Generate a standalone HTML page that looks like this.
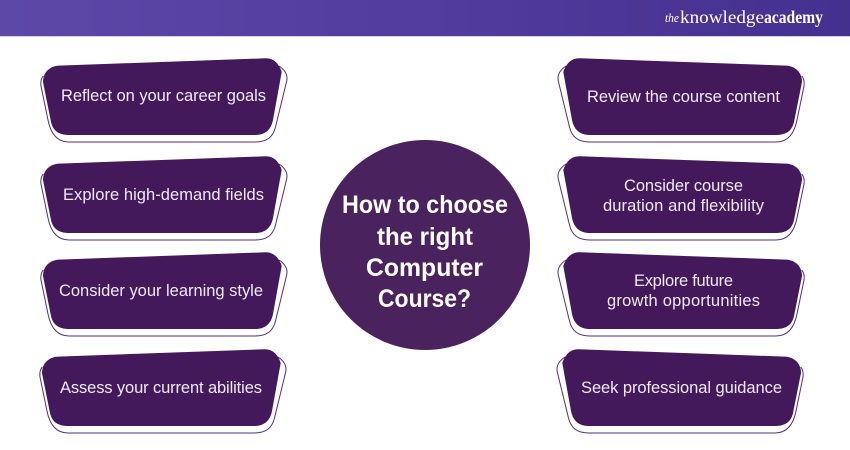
<!DOCTYPE html>
<html>
<head>
<meta charset="utf-8">
<style>
html,body{margin:0;padding:0;background:#fff;width:850px;height:450px;overflow:hidden}
svg{display:block}
.t{font-family:"Liberation Sans",sans-serif;font-size:16.5px;fill:#f1e8f4}
.h{font-family:"Liberation Sans",sans-serif;font-size:25px;font-weight:bold;fill:#fff}
.l{font-family:"Liberation Serif",serif;fill:#fff}
</style>
</head>
<body>
<svg width="850" height="450" viewBox="0 0 850 450" xmlns="http://www.w3.org/2000/svg">
<defs>
<linearGradient id="g" x1="0" y1="0" x2="1" y2="0">
<stop offset="0" stop-color="#5d48a8"/>
<stop offset="0.5" stop-color="#523c9e"/>
<stop offset="1" stop-color="#44308f"/>
</linearGradient>
<g id="b">
<path d="M0.3,18 C-1.5,20 -2.5,24 -2,28 L5,62 C8,77 15,84 26,84 L212,84 C224,84 230,79 232.5,69 L243.7,23 C245,17 242,12 236,8" fill="none" stroke="#5a2f72" stroke-width="1"/>
<path d="M16,7.6 L222,0.3 C231,0 236,6 238.7,14 L230,62 C228,72 222,77 212,77 L26,77 C16,77 10,73 8,64 L0,24 C0,15 6,8.2 16,7.6 Z" fill="#43195c"/>
</g>
</defs>
<rect x="0" y="0" width="850" height="36" fill="url(#g)"/>
<rect x="0" y="36" width="850" height="1" fill="#d5cfe6"/>
<text class="l" x="665" y="22" font-size="13" font-style="italic" textLength="14" lengthAdjust="spacingAndGlyphs">the</text>
<text class="l" x="680" y="23" font-size="17.5" textLength="84" lengthAdjust="spacingAndGlyphs">knowledge</text>
<text class="l" x="764" y="23" font-size="17.5" font-weight="bold" textLength="59" lengthAdjust="spacingAndGlyphs">academy</text>

<use href="#b" transform="translate(43,58)"/>
<use href="#b" transform="translate(43,156)"/>
<use href="#b" transform="translate(43,252)"/>
<use href="#b" transform="translate(42,349)"/>
<use href="#b" transform="translate(802,58) scale(-1,1)"/>
<use href="#b" transform="translate(802,156) scale(-1,1)"/>
<use href="#b" transform="translate(802,252) scale(-1,1)"/>
<use href="#b" transform="translate(801,349) scale(-1,1)"/>

<circle cx="425" cy="245" r="105" fill="#4a225d"/>
<text class="h" x="342" y="213" textLength="166" lengthAdjust="spacingAndGlyphs">How to choose</text>
<text class="h" x="377" y="245" textLength="96" lengthAdjust="spacingAndGlyphs">the right</text>
<text class="h" x="366" y="276" textLength="117" lengthAdjust="spacingAndGlyphs">Computer</text>
<text class="h" x="378" y="307" textLength="93" lengthAdjust="spacingAndGlyphs">Course?</text>

<text class="t" x="61" y="101" textLength="205">Reflect on your career goals</text>
<text class="t" x="63" y="200" textLength="201">Explore high-demand fields</text>
<text class="t" x="59" y="296" textLength="204">Consider your learning style</text>
<text class="t" x="60" y="393" textLength="202">Assess your current abilities</text>
<text class="t" x="587" y="102" textLength="193">Review the course content</text>
<text class="t" x="624" y="191" textLength="119">Consider course</text>
<text class="t" x="603" y="211" textLength="161">duration and flexibility</text>
<text class="t" x="634" y="286" textLength="99">Explore future</text>
<text class="t" x="607" y="306" textLength="153">growth opportunities</text>
<text class="t" x="581" y="393" textLength="201">Seek professional guidance</text>
</svg>
</body>
</html>
